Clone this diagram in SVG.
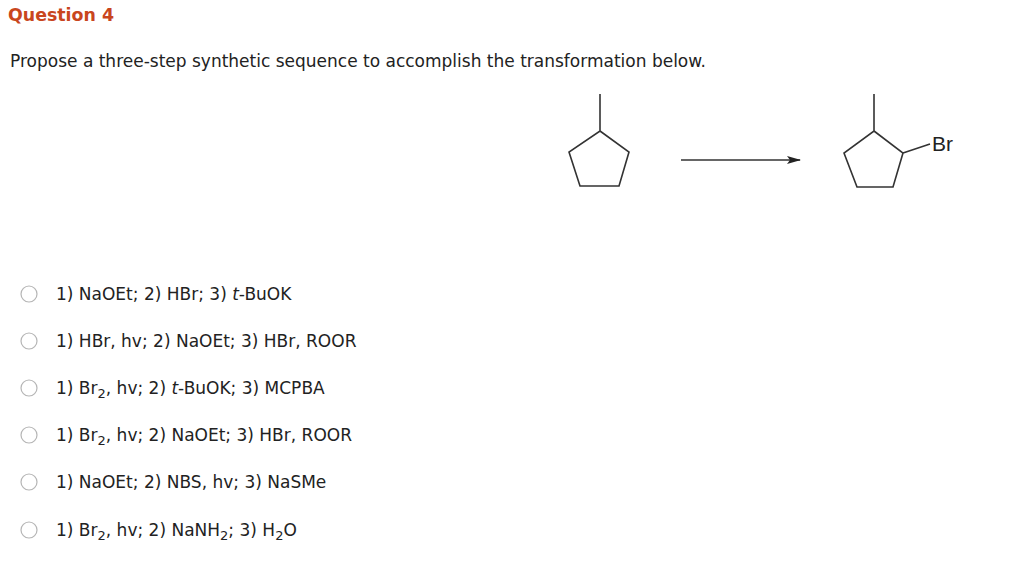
<svg xmlns="http://www.w3.org/2000/svg" width="1024" height="563" viewBox="0 0 1024 563">
<defs>
<style>
text{font-family:"DejaVu Sans",Verdana,sans-serif;fill:#222}
.o{font-size:17px}
.b{fill:none;stroke:#333;stroke-width:1.6;stroke-linejoin:miter}
.r{fill:#fff;stroke:#b5b5b5;stroke-width:1.2}
</style>
<marker id="ah" markerWidth="14" markerHeight="8" refX="13" refY="4" orient="auto" markerUnits="userSpaceOnUse"><path d="M0,0 L14,4 L0,8 L3,4 Z" fill="#222"/></marker>
</defs>
<rect width="1024" height="563" fill="#fff"/>
<text x="8" y="21" style="font-size:17.4px;font-weight:bold;fill:#c9461d">Question 4</text>
<text x="10" y="67" style="font-size:17px">Propose a three-step synthetic sequence to accomplish the transformation below.</text>
<g id="start"><path class="b" d="M600,94 L600,131 M600,131 L629,152 L619,186 L580,186 L569,152 Z"/></g>
<g id="product"><path class="b" d="M874,94 L874,131 M874,131 L903,153 L893,187 L857,187 L844,153 Z M903,153 L930,144"/>
<text x="932" y="151" style="font-size:21px;font-family:'Liberation Sans',Arial,sans-serif">Br</text></g>
<g id="connectors"><line x1="681" y1="160" x2="800" y2="160" stroke="#333" stroke-width="1.4" marker-end="url(#ah)"/></g>
<g id="options">
<circle class="r" cx="29" cy="294" r="8"/><text class="o" x="56" y="300">1) NaOEt; 2) HBr; 3) <tspan font-style="italic">t</tspan>-BuOK</text>
<circle class="r" cx="29" cy="341" r="8"/><text class="o" x="56" y="347">1) HBr, hv; 2) NaOEt; 3) HBr, ROOR</text>
<circle class="r" cx="29" cy="388" r="8"/><text class="o" x="56" y="394">1) Br<tspan font-size="13" dy="4">2</tspan><tspan dy="-4">, hv; 2) </tspan><tspan font-style="italic">t</tspan>-BuOK; 3) MCPBA</text>
<circle class="r" cx="29" cy="435" r="8"/><text class="o" x="56" y="441">1) Br<tspan font-size="13" dy="4">2</tspan><tspan dy="-4">, hv; 2) NaOEt; 3) HBr, ROOR</tspan></text>
<circle class="r" cx="29" cy="482" r="8"/><text class="o" x="56" y="488">1) NaOEt; 2) NBS, hv; 3) NaSMe</text>
<circle class="r" cx="29" cy="530" r="8"/><text class="o" x="56" y="536">1) Br<tspan font-size="13" dy="4">2</tspan><tspan dy="-4">, hv; 2) NaNH</tspan><tspan font-size="13" dy="4">2</tspan><tspan dy="-4">; 3) H</tspan><tspan font-size="13" dy="4">2</tspan><tspan dy="-4">O</tspan></text>
</g>
</svg>
